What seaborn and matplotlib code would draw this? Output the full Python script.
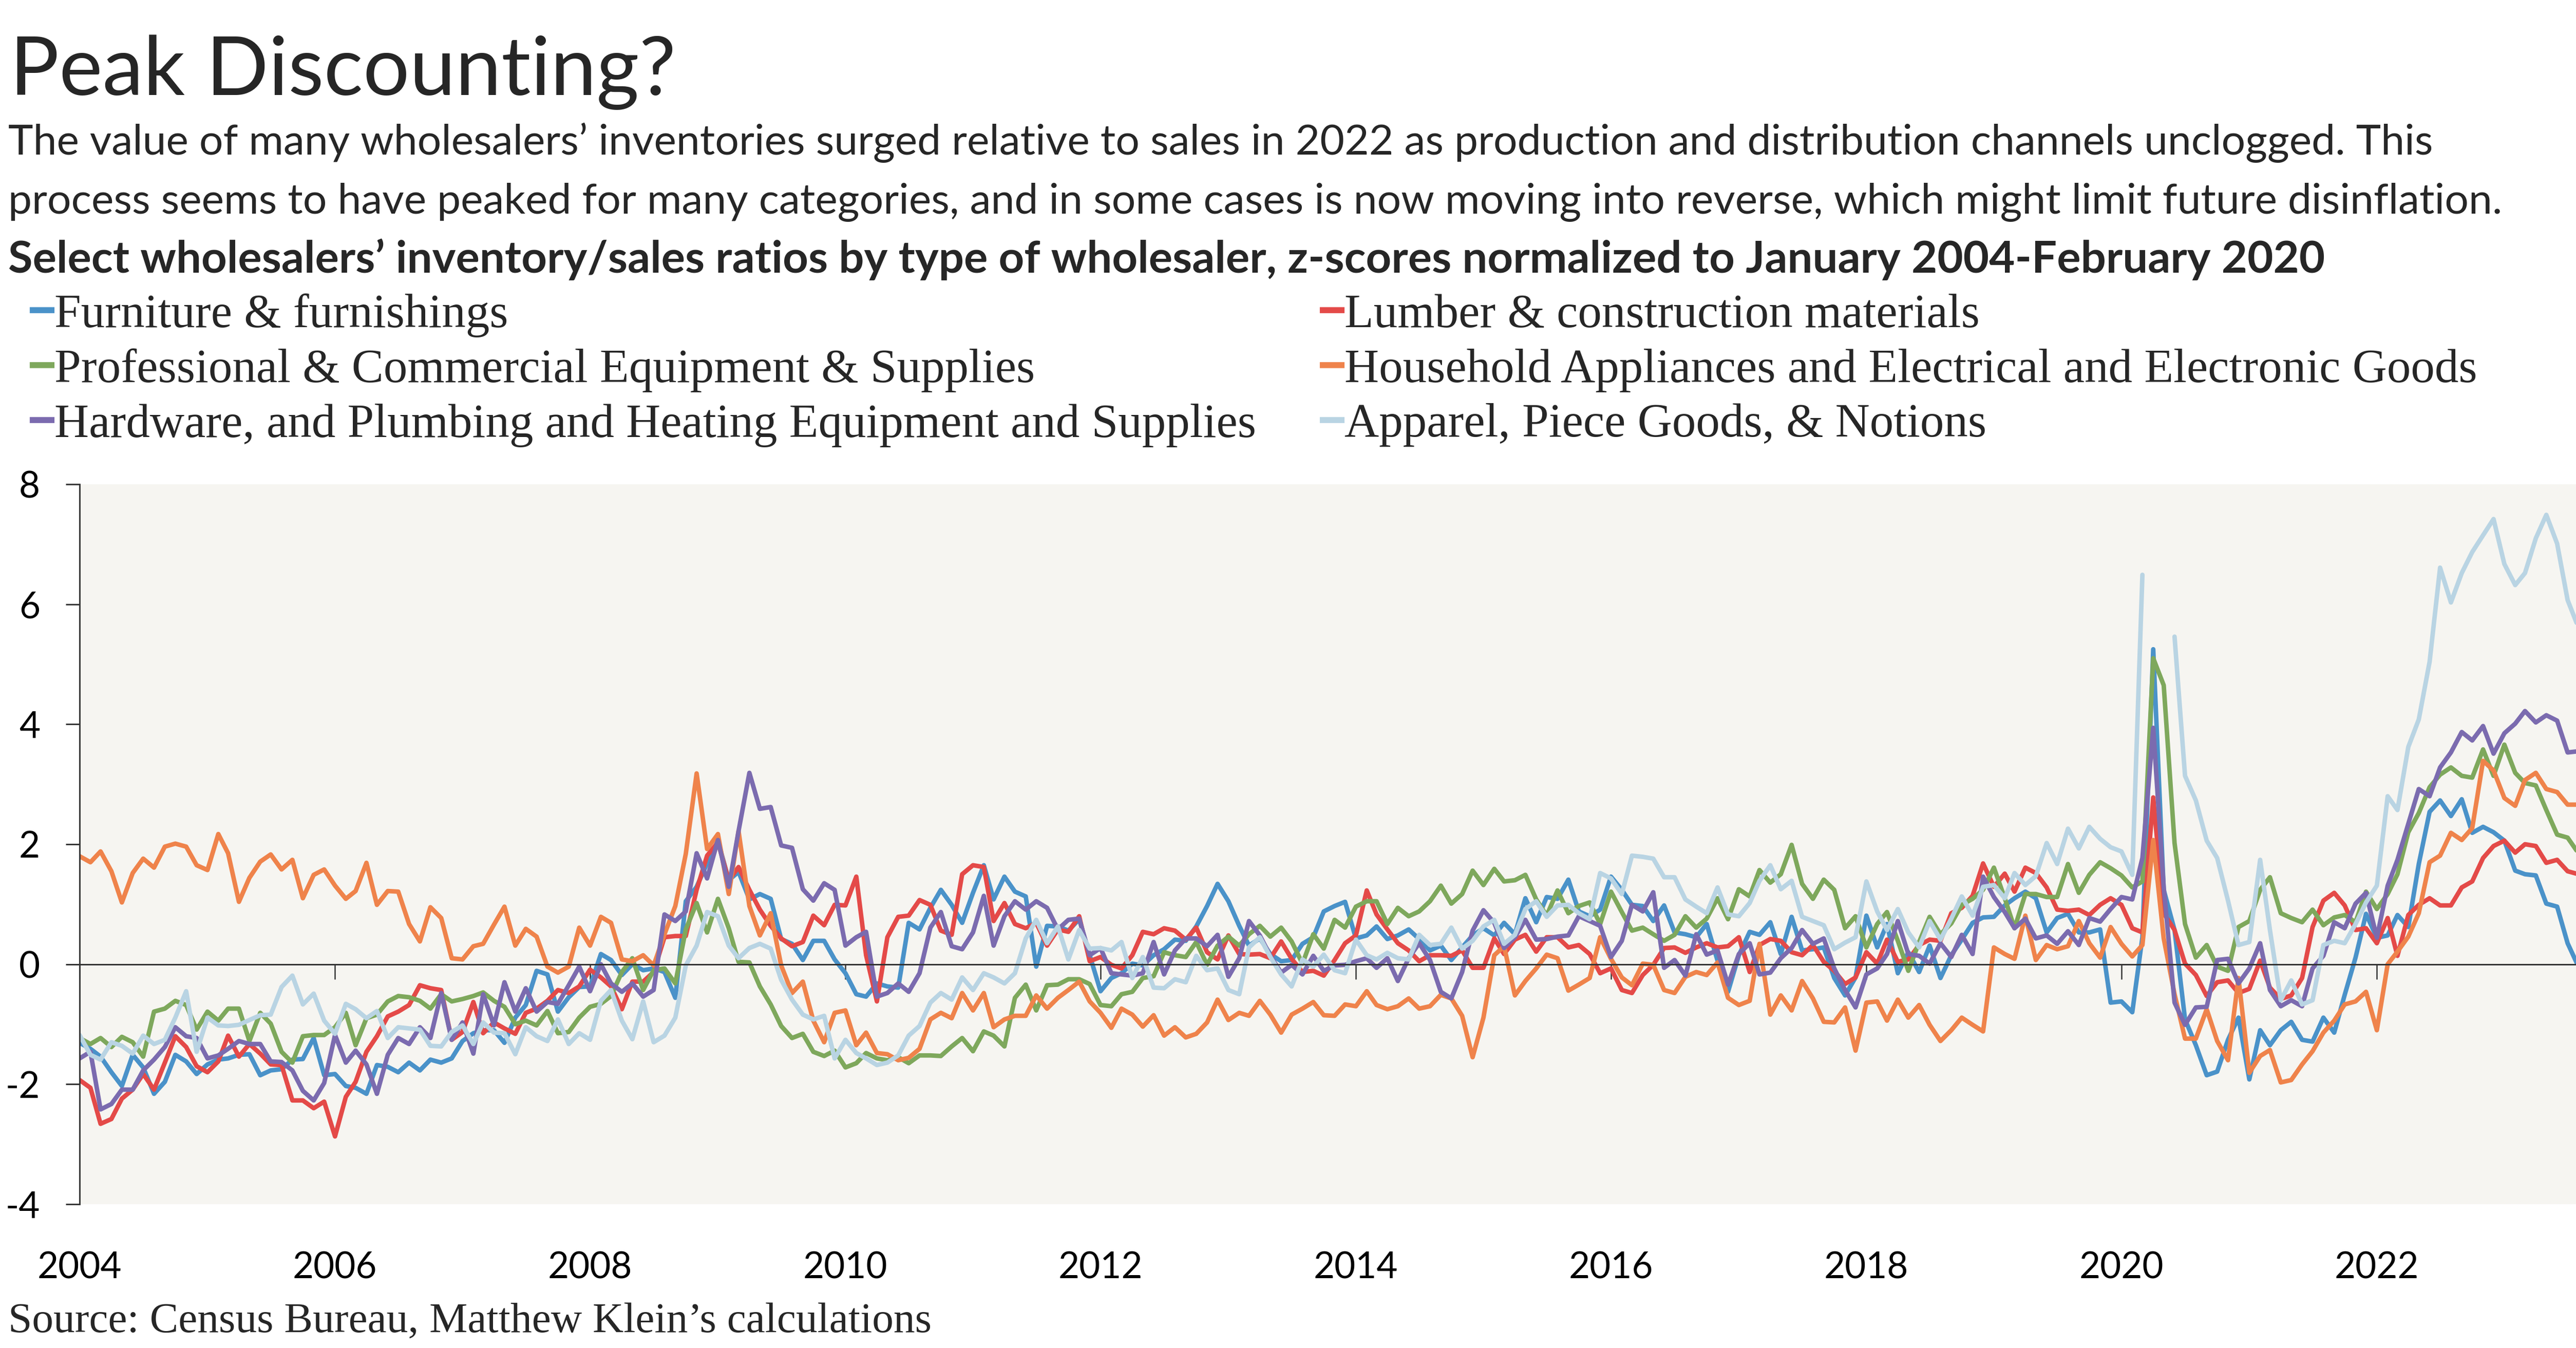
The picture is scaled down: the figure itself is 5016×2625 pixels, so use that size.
import numpy as np
import pandas as pd
import matplotlib
matplotlib.use("Agg")
import matplotlib.pyplot as plt
import matplotlib.dates as mdates
from matplotlib.lines import Line2D
from matplotlib.font_manager import FontProperties
import seaborn as sns

# ---------------- DATA (monthly z-scores, Jan 2004 onward) ----------------
START = "2004-01-01"

furniture = [
    -1.31, -1.41, -1.54, -1.80, -2.03, -1.51, -1.72, -2.16, -1.96, -1.51, -1.62, -1.83,
    -1.67, -1.59, -1.57, -1.51, -1.50, -1.85, -1.77, -1.75, -1.59, -1.58, -1.23, -1.85,
    -1.83, -2.03, -2.06, -2.16, -1.68, -1.71, -1.80, -1.64, -1.77, -1.59, -1.64, -1.57,
    -1.28, -1.15, -1.10, -1.10, -1.31, -0.89, -0.68, -0.11, -0.17, -0.79, -0.55, -0.38,
    -0.37, 0.17, 0.07, -0.18, 0.00, -0.10, -0.07, -0.13, -0.56, 1.05, 1.29, 1.68,
    2.06, 1.40, 1.54, 1.08, 1.17, 1.09, 0.42, 0.34, 0.07, 0.39, 0.39, 0.08,
    -0.15, -0.50, -0.54, -0.32, -0.37, -0.39, 0.69, 0.58, 0.94, 1.24, 0.99, 0.69,
    1.19, 1.65, 1.08, 1.46, 1.21, 1.13, -0.04, 0.64, 0.63, 0.56, 0.75, 0.15,
    -0.45, -0.23, -0.15, 0.01, -0.02, 0.15, 0.25, 0.41, 0.39, 0.63, 0.97, 1.34,
    1.05, 0.64, 0.31, 0.43, 0.17, 0.05, 0.07, 0.34, 0.45, 0.88, 0.97, 1.04,
    0.43, 0.48, 0.63, 0.42, 0.48, 0.58, 0.42, 0.23, 0.31, 0.07, 0.28, 0.48,
    0.60, 0.48, 0.69, 0.50, 1.10, 0.70, 1.12, 1.09, 1.41, 0.88, 0.80, 0.91,
    1.46, 1.24, 0.99, 0.97, 0.72, 0.98, 0.53, 0.50, 0.45, 0.67, 0.06, -0.46,
    0.15, 0.54, 0.49, 0.70, 0.17, 0.79, 0.23, 0.25, 0.28, -0.23, -0.52, -0.22,
    0.81, 0.28, 0.67, -0.15, 0.20, -0.13, 0.31, -0.23, 0.15, 0.41, 0.69, 0.78,
    0.79, 0.98, 1.10, 1.21, 1.10, 0.53, 0.77, 0.84, 0.53, 0.53, 0.58, -0.64,
    -0.62, -0.80, 0.45, 5.25, 1.24, 0.57, -0.92, -1.35, -1.85, -1.79, -1.26, -0.89,
    -1.92, -1.10, -1.35, -1.10, -0.96, -1.26, -1.29, -0.89, -1.14, -0.51, 0.11, 0.84,
    0.44, 0.48, 0.82, 0.62, 1.67, 2.54, 2.73, 2.47, 2.75, 2.19, 2.29, 2.20,
    2.06, 1.56, 1.50, 1.48, 1.01, 0.96, 0.35, -0.04,
]

lumber = [
    -1.93, -2.06, -2.66, -2.58, -2.24, -2.09, -1.83, -2.09, -1.64, -1.20, -1.38, -1.70,
    -1.80, -1.62, -1.19, -1.54, -1.33, -1.49, -1.67, -1.68, -2.27, -2.27, -2.40, -2.29,
    -2.87, -2.21, -1.96, -1.46, -1.20, -0.87, -0.79, -0.68, -0.35, -0.40, -0.43, -1.26,
    -1.13, -0.63, -1.15, -0.97, -1.07, -1.16, -0.81, -0.74, -0.61, -0.43, -0.48, -0.37,
    -0.09, -0.22, -0.37, -0.75, -0.29, -0.29, -0.13, 0.45, 0.47, 0.47, 1.24, 1.81,
    2.03, 1.40, 1.62, 1.24, 0.91, 0.64, 0.43, 0.30, 0.37, 0.81, 0.65, 0.99,
    0.98, 1.46, 0.15, -0.62, 0.45, 0.79, 0.81, 1.07, 0.99, 0.56, 0.49, 1.50,
    1.65, 1.62, 0.72, 1.02, 0.67, 0.60, 0.69, 0.31, 0.58, 0.54, 0.80, 0.05,
    0.12, -0.01, -0.07, 0.15, 0.54, 0.50, 0.60, 0.56, 0.41, 0.61, 0.20, 0.08,
    0.48, 0.17, 0.16, 0.17, 0.10, 0.38, 0.09, -0.13, -0.11, -0.19, 0.07, 0.35,
    0.48, 1.23, 0.83, 0.58, 0.35, 0.23, 0.05, 0.15, 0.15, 0.14, 0.23, -0.06,
    -0.06, 0.43, 0.17, 0.41, 0.49, 0.21, 0.45, 0.45, 0.28, 0.32, 0.17, -0.15,
    -0.07, -0.43, -0.48, -0.18, -0.01, 0.27, 0.28, 0.19, 0.28, 0.35, 0.28, 0.30,
    0.45, -0.13, 0.32, 0.42, 0.39, 0.20, 0.15, 0.32, 0.04, -0.11, -0.33, -0.22,
    0.20, 0.01, 0.41, 0.04, 0.08, 0.32, 0.41, 0.39, 0.85, 0.94, 1.14, 1.68,
    1.29, 1.51, 1.21, 1.61, 1.52, 1.28, 0.91, 0.89, 0.91, 0.82, 0.99, 1.10,
    0.99, 0.60, 0.53, 2.78, 0.85, 0.57, 0.01, -0.18, -0.53, -0.30, -0.27, -0.48,
    -0.41, 0.06, -0.39, -0.58, -0.52, -0.23, 0.62, 1.06, 1.19, 0.98, 0.57, 0.60,
    0.35, 0.77, 0.14, 0.82, 0.99, 1.10, 0.98, 0.98, 1.28, 1.38, 1.77, 1.97,
    2.06, 1.86, 2.00, 1.97, 1.69, 1.74, 1.55, 1.50,
]

professional = [
    -1.23, -1.33, -1.23, -1.38, -1.21, -1.30, -1.54, -0.79, -0.74, -0.61, -0.68, -1.09,
    -0.79, -0.94, -0.74, -0.74, -1.28, -0.81, -0.99, -1.46, -1.64, -1.20, -1.18, -1.18,
    -1.05, -0.81, -1.35, -0.90, -0.84, -0.62, -0.53, -0.55, -0.61, -0.74, -0.50, -0.62,
    -0.58, -0.53, -0.47, -0.61, -0.71, -1.00, -0.94, -1.02, -0.78, -1.15, -1.13, -0.89,
    -0.71, -0.66, -0.53, -0.13, 0.10, -0.43, -0.10, -0.07, -0.32, 0.58, 1.02, 0.53,
    1.09, 0.60, 0.04, 0.03, -0.37, -0.67, -1.03, -1.23, -1.16, -1.46, -1.53, -1.44,
    -1.72, -1.65, -1.48, -1.57, -1.60, -1.55, -1.65, -1.52, -1.52, -1.53, -1.37, -1.23,
    -1.45, -1.12, -1.19, -1.37, -0.56, -0.34, -0.77, -0.35, -0.34, -0.25, -0.25, -0.33,
    -0.68, -0.70, -0.50, -0.46, -0.23, -0.20, 0.20, 0.15, 0.12, 0.37, -0.01, 0.31,
    0.46, 0.31, 0.50, 0.64, 0.46, 0.61, 0.38, 0.01, 0.50, 0.26, 0.74, 0.61,
    0.96, 1.05, 1.05, 0.67, 0.94, 0.80, 0.88, 1.05, 1.31, 1.01, 1.17, 1.56,
    1.32, 1.59, 1.38, 1.40, 1.49, 1.08, 0.81, 1.23, 0.85, 0.97, 1.03, 0.67,
    1.21, 0.87, 0.56, 0.61, 0.50, 0.39, 0.49, 0.80, 0.61, 0.76, 1.10, 0.75,
    1.25, 1.13, 1.57, 1.36, 1.50, 1.99, 1.34, 1.09, 1.41, 1.24, 0.60, 0.80,
    0.28, 0.67, 0.87, 0.39, -0.11, 0.37, 0.79, 0.50, 0.68, 0.99, 1.09, 1.24,
    1.61, 1.10, 0.60, 1.17, 1.17, 1.12, 1.12, 1.67, 1.19, 1.49, 1.70, 1.60,
    1.48, 1.28, 1.38, 5.10, 4.65, 2.02, 0.67, 0.11, 0.32, -0.04, -0.11, 0.62,
    0.72, 1.24, 1.45, 0.85, 0.77, 0.70, 0.91, 0.65, 0.78, 0.82, 0.70, 1.21,
    0.92, 1.17, 1.50, 2.20, 2.52, 2.95, 3.16, 3.28, 3.14, 3.11, 3.58, 3.14,
    3.66, 3.19, 3.02, 2.98, 2.57, 2.16, 2.11, 1.85,
]

household = [
    1.80, 1.70, 1.88, 1.55, 1.03, 1.52, 1.76, 1.61, 1.96, 2.01, 1.96, 1.65,
    1.57, 2.17, 1.85, 1.04, 1.44, 1.71, 1.83, 1.58, 1.74, 1.10, 1.49, 1.58,
    1.31, 1.09, 1.22, 1.69, 0.99, 1.22, 1.21, 0.67, 0.38, 0.95, 0.77, 0.10,
    0.08, 0.30, 0.34, 0.66, 0.96, 0.31, 0.59, 0.46, -0.04, -0.14, -0.04, 0.61,
    0.31, 0.79, 0.69, 0.08, 0.05, 0.15, -0.02, 0.50, 0.97, 1.84, 3.18, 1.92,
    2.17, 1.17, 2.22, 0.97, 0.48, 0.85, -0.02, -0.48, -0.29, -0.94, -1.30, -0.81,
    -0.77, -1.35, -1.14, -1.48, -1.50, -1.60, -1.56, -1.41, -0.92, -0.81, -0.90, -0.48,
    -0.77, -0.48, -1.05, -0.92, -0.86, -0.86, -0.52, -0.74, -0.56, -0.43, -0.29, -0.62,
    -0.81, -1.06, -0.74, -0.84, -1.04, -0.85, -1.19, -1.05, -1.22, -1.16, -0.97, -0.59,
    -0.93, -0.81, -0.86, -0.61, -0.84, -1.14, -0.84, -0.74, -0.63, -0.85, -0.86, -0.67,
    -0.70, -0.45, -0.68, -0.75, -0.70, -0.57, -0.74, -0.70, -0.51, -0.57, -0.86, -1.55,
    -0.89, 0.15, 0.30, -0.52, -0.28, -0.07, 0.16, 0.10, -0.44, -0.34, -0.23, 0.45,
    0.09, -0.22, -0.35, 0.01, -0.01, -0.43, -0.48, -0.21, -0.13, -0.18, 0.03, -0.56,
    -0.68, -0.61, 0.34, -0.84, -0.52, -0.77, -0.28, -0.57, -0.96, -0.97, -0.72, -1.44,
    -0.64, -0.62, -0.94, -0.59, -0.89, -0.68, -1.01, -1.28, -1.10, -0.89, -1.01, -1.12,
    0.28, 0.17, 0.09, 0.81, 0.07, 0.32, 0.25, 0.30, 0.72, 0.35, 0.11, 0.62,
    0.34, 0.13, 0.32, 2.07, 0.43, -0.50, -1.24, -1.24, -0.75, -1.28, -1.60, -0.23,
    -1.81, -1.53, -1.43, -1.97, -1.93, -1.67, -1.45, -1.14, -0.94, -0.67, -0.62, -0.46,
    -1.10, 0.00, 0.21, 0.46, 0.85, 1.70, 1.81, 2.19, 2.07, 2.27, 3.39, 3.23,
    2.77, 2.64, 3.07, 3.19, 2.92, 2.87, 2.66, 2.66,
]

hardware = [
    -1.57, -1.46, -2.42, -2.33, -2.09, -2.09, -1.77, -1.59, -1.38, -1.05, -1.20, -1.23,
    -1.57, -1.52, -1.41, -1.28, -1.33, -1.33, -1.62, -1.63, -1.77, -2.11, -2.27, -1.98,
    -1.18, -1.64, -1.44, -1.67, -2.16, -1.51, -1.23, -1.33, -1.05, -1.23, -0.48, -1.26,
    -0.97, -1.49, -0.50, -1.02, -0.30, -0.79, -0.40, -0.79, -0.63, -0.66, -0.35, -0.04,
    -0.45, 0.00, -0.32, -0.46, -0.32, -0.54, -0.43, 0.83, 0.72, 0.88, 1.85, 1.43,
    2.07, 1.29, 2.22, 3.19, 2.59, 2.62, 1.98, 1.94, 1.25, 1.06, 1.35, 1.24,
    0.31, 0.45, 0.54, -0.54, -0.48, -0.32, -0.46, -0.15, 0.61, 0.87, 0.30, 0.25,
    0.53, 1.14, 0.31, 0.80, 1.05, 0.91, 1.05, 0.94, 0.58, 0.74, 0.76, 0.15,
    0.27, -0.15, -0.17, -0.19, -0.15, 0.37, -0.17, 0.23, 0.43, 0.43, 0.30, 0.49,
    -0.21, 0.10, 0.72, 0.48, 0.14, -0.14, -0.01, -0.17, 0.14, -0.11, -0.02, -0.01,
    0.05, 0.10, -0.06, 0.10, -0.28, 0.10, 0.35, 0.07, -0.46, -0.57, -0.13, 0.56,
    0.90, 0.69, 0.27, 0.45, 0.74, 0.41, 0.42, 0.46, 0.48, 0.80, 0.72, 0.64,
    0.12, 0.39, 0.99, 0.88, 1.20, -0.06, 0.07, -0.19, 0.50, 0.16, 0.23, -0.34,
    0.17, 0.35, -0.17, -0.14, 0.10, 0.27, 0.57, 0.34, 0.43, -0.07, -0.43, -0.72,
    -0.17, -0.07, 0.17, 0.72, 0.17, 0.14, 0.01, 0.35, 0.12, 0.49, 0.17, 1.46,
    1.12, 0.87, 0.60, 0.76, 0.43, 0.48, 0.34, 0.55, 0.32, 0.77, 0.71, 0.92,
    1.12, 1.08, 1.77, 3.94, 1.28, -0.64, -1.01, -0.72, -0.71, 0.07, 0.09, -0.32,
    -0.07, 0.35, -0.43, -0.70, -0.60, -0.70, -0.07, 0.14, 0.70, 0.60, 1.01, 1.19,
    0.44, 1.31, 1.74, 2.34, 2.92, 2.80, 3.28, 3.53, 3.87, 3.73, 3.97, 3.51,
    3.85, 4.01, 4.22, 4.03, 4.15, 4.06, 3.53, 3.55,
]

apparel = [
    -1.18, -1.51, -1.59, -1.30, -1.36, -1.49, -1.19, -1.33, -1.26, -0.89, -0.45, -1.46,
    -0.89, -1.02, -1.03, -1.01, -0.93, -0.85, -0.84, -0.38, -0.19, -0.67, -0.49, -0.94,
    -1.16, -0.66, -0.75, -0.90, -0.78, -1.23, -1.05, -1.07, -1.09, -1.36, -1.37, -1.13,
    -1.02, -1.33, -0.97, -1.14, -1.15, -1.50, -1.05, -1.20, -1.28, -0.92, -1.33, -1.15,
    -1.26, -0.61, -0.43, -0.94, -1.25, -0.62, -1.30, -1.19, -0.89, -0.02, 0.31, 0.87,
    0.80, 0.31, 0.10, 0.27, 0.34, 0.26, -0.26, -0.59, -0.84, -0.92, -0.86, -1.57,
    -1.26, -1.48, -1.57, -1.68, -1.64, -1.52, -1.19, -1.03, -0.64, -0.48, -0.59, -0.22,
    -0.43, -0.15, -0.22, -0.32, -0.15, 0.43, 0.74, 0.35, 0.63, 0.08, 0.57, 0.26,
    0.27, 0.23, 0.37, -0.23, 0.12, -0.39, -0.40, -0.25, -0.30, 0.14, -0.10, -0.07,
    -0.43, -0.50, 0.28, 0.45, 0.12, -0.17, -0.37, 0.08, -0.04, 0.16, -0.10, -0.15,
    0.41, 0.15, 0.08, 0.19, 0.10, 0.08, 0.49, 0.32, 0.34, 0.61, 0.26, 0.39,
    0.63, 0.74, 0.34, 0.49, 0.92, 1.05, 0.79, 0.98, 0.99, 0.85, 0.75, 1.52,
    1.43, 1.17, 1.81, 1.79, 1.76, 1.45, 1.45, 1.08, 0.96, 0.85, 1.28, 0.83,
    0.80, 1.02, 1.39, 1.65, 1.25, 1.39, 0.79, 0.72, 0.65, 0.25, 0.36, 0.45,
    1.38, 0.88, 0.57, 0.92, 0.53, 0.28, 0.72, 0.41, 0.76, 1.13, 0.81, 1.29,
    1.32, 1.10, 1.52, 1.32, 1.47, 2.02, 1.67, 2.26, 1.93, 2.29, 2.09, 1.95,
    1.88, 1.49, 6.49, np.nan, np.nan, 5.46, 3.14, 2.73, 2.06, 1.77, 1.06, 0.32,
    0.37, 1.74, 0.57, -0.60, -0.27, -0.67, -0.60, 0.32, 0.39, 0.35, 0.67, 1.03,
    1.31, 2.80, 2.57, 3.62, 4.08, 5.04, 6.61, 6.03, 6.52, 6.87, 7.15, 7.42,
    6.67, 6.32, 6.52, 7.10, 7.49, 7.01, 6.07, 5.61,
]

series_names = [
    "Furniture & furnishings",
    "Lumber & construction materials",
    "Professional & Commercial Equipment & Supplies",
    "Household Appliances and Electrical and Electronic Goods",
    "Hardware, and Plumbing and Heating Equipment and Supplies",
    "Apparel, Piece Goods, & Notions",
]
series_values = [furniture, lumber, professional, household, hardware, apparel]
series_colors = ["#4A92C9", "#E44A48", "#7EA85C", "#EF834B", "#7B6BAF", "#B9D4E3"]

year_ticks = list(range(2004, 2023, 2))
y_ticks = [-4, -2, 0, 2, 4, 6, 8]

title = "Peak Discounting?"
subtitle_lines = [
    "The value of many wholesalers\u2019 inventories surged relative to sales in 2022 as production and distribution channels unclogged. This",
    "process seems to have peaked for many categories, and in some cases is now moving into reverse, which might limit future disinflation.",
]
chart_label = "Select wholesalers\u2019 inventory/sales ratios by type of wholesaler, z-scores normalized to January 2004-February 2020"
source = "Source: Census Bureau, Matthew Klein\u2019s calculations"

# ---------------- LONG FORM FRAME ----------------
frames = []
for name, vals in zip(series_names, series_values):
    dates = pd.date_range(START, periods=len(vals), freq="MS")
    part = pd.DataFrame({"date": dates, "z": vals, "series": name})
    # a missing month breaks the line into separate segments
    part["segment"] = part["z"].isna().cumsum()
    frames.append(part)
df = pd.concat(frames, ignore_index=True).dropna(subset=["z"])

# ---------------- FIGURE ----------------
W, H = 5016, 2625
DPI = 300
sns.set_style("white")
plt.rcParams["font.family"] = ["Lato", "DejaVu Sans"]

fig = plt.figure(figsize=(W / DPI, H / DPI), dpi=DPI)
fig.patch.set_facecolor("white")

ax_left, ax_right, ax_top, ax_bot = 155, W, 943, 2345
ax = fig.add_axes([ax_left / W, 1 - ax_bot / H, (ax_right - ax_left) / W, (ax_bot - ax_top) / H])
ax.set_facecolor("#F6F5F1")

palette = dict(zip(series_names, series_colors))
sns.lineplot(data=df, x="date", y="z", hue="series", hue_order=series_names,
             units="segment", palette=palette, estimator=None, linewidth=2.1,
             legend=False, ax=ax)

ax.set_xlim(pd.Timestamp(START), pd.Timestamp("2023-07-25"))
ax.set_ylim(-4, 8)
ax.set_xlabel("")
ax.set_ylabel("")

# axes styling
for side in ["top", "right"]:
    ax.spines[side].set_visible(False)
ax.spines["left"].set_color("#333333")
ax.spines["left"].set_linewidth(0.7)
ax.spines["bottom"].set_position(("data", 0))
ax.spines["bottom"].set_color("#333333")
ax.spines["bottom"].set_linewidth(0.7)

tick_dates = [pd.Timestamp(f"{y}-01-01") for y in year_ticks]
ax.set_xticks(tick_dates)
ax.tick_params(axis="x", direction="out", length=7, width=0.6, color="#333333",
               labelbottom=False, bottom=True)
ax.set_yticks(y_ticks)
ax.set_yticklabels([str(v) for v in y_ticks])
ax.tick_params(axis="y", direction="out", length=6.5, width=0.7, color="#333333",
               pad=12, labelsize=17, labelcolor="black", left=True)

sec = ax.secondary_xaxis(0)
sec.set_xticks(mdates.date2num(tick_dates))
sec.set_xticklabels([str(y) for y in year_ticks])
sec.tick_params(axis="x", length=0, pad=22, labelsize=17, labelcolor="black")
sec.spines["bottom"].set_visible(False)

# ---------------- TEXT ----------------
renderer = fig.canvas.get_renderer()


def fit_width(txt, target_px):
    w = txt.get_window_extent(renderer=renderer).width
    txt.set_fontsize(txt.get_fontsize() * target_px / w)


def fy(px):
    return 1 - px / H


t_title = fig.text(19 / W, fy(185), title, fontsize=38, fontweight="normal",
                   family=["Lato", "DejaVu Sans"], va="baseline", ha="left")
fit_width(t_title, 1297)

t_sub1 = fig.text(16 / W, fy(301), subtitle_lines[0], fontsize=19,
                  family=["Lato", "DejaVu Sans"], va="baseline", ha="left")
fit_width(t_sub1, 4726)
t_sub2 = fig.text(16 / W, fy(416), subtitle_lines[1], fontsize=t_sub1.get_fontsize(),
                  family=["Lato", "DejaVu Sans"], va="baseline", ha="left")

t_label = fig.text(16 / W, fy(531), chart_label, fontsize=19, fontweight="bold",
                   family=["Lato", "DejaVu Sans"], va="baseline", ha="left")
fit_width(t_label, 4515)

serif = ["Liberation Serif", "DejaVu Serif"]
t_src = fig.text(16 / W, fy(2594), source, fontsize=19, family=serif,
                 va="baseline", ha="left")
fit_width(t_src, 1799)

# ---------------- LEGEND ----------------
probe = fig.text(0, 0, series_names[3], fontsize=20, family=serif)
fit_width(probe, 2208)
leg_size = probe.get_fontsize()
probe.remove()
em_px = leg_size * DPI / 72
prop = FontProperties(family=serif, size=leg_size)

order = [0, 2, 4, 1, 3, 5]
handles = [Line2D([], [], color=series_colors[i], linewidth=2.8, solid_capstyle="butt") for i in order]
labels = [series_names[i] for i in order]


def build_legend(anchor_x, anchor_y, colsp, labsp):
    return fig.legend(handles, labels, ncol=2, loc="upper left",
                      bbox_to_anchor=(anchor_x, anchor_y), bbox_transform=fig.transFigure,
                      frameon=False, borderpad=0, borderaxespad=0,
                      handlelength=48 / em_px, handletextpad=0.0,
                      columnspacing=colsp, labelspacing=labsp, prop=prop)


leg = build_legend(58 / W, fy(575), 1.0, 0.2)
fig.canvas.draw()
texts = leg.get_texts()
col1_w = max(t.get_window_extent(renderer).width for t in texts[:3])
row_h = texts[0].get_window_extent(renderer).height
colsp = (2570 - (58 + 48 + col1_w)) / em_px
labsp = (107 - row_h) / em_px

ref = fig.text(0, fy(637), labels[0], fontproperties=prop, va="baseline")
ref_y0 = ref.get_window_extent(renderer).y0
ref.remove()
leg.remove()
leg = build_legend(58 / W, fy(575), colsp, labsp)
fig.canvas.draw()
dy = ref_y0 - leg.get_texts()[0].get_window_extent(renderer).y0
leg.remove()
leg = build_legend(58 / W, fy(575) + dy / H, colsp, labsp)

fig.savefig("out.png", dpi=DPI, facecolor="white")
